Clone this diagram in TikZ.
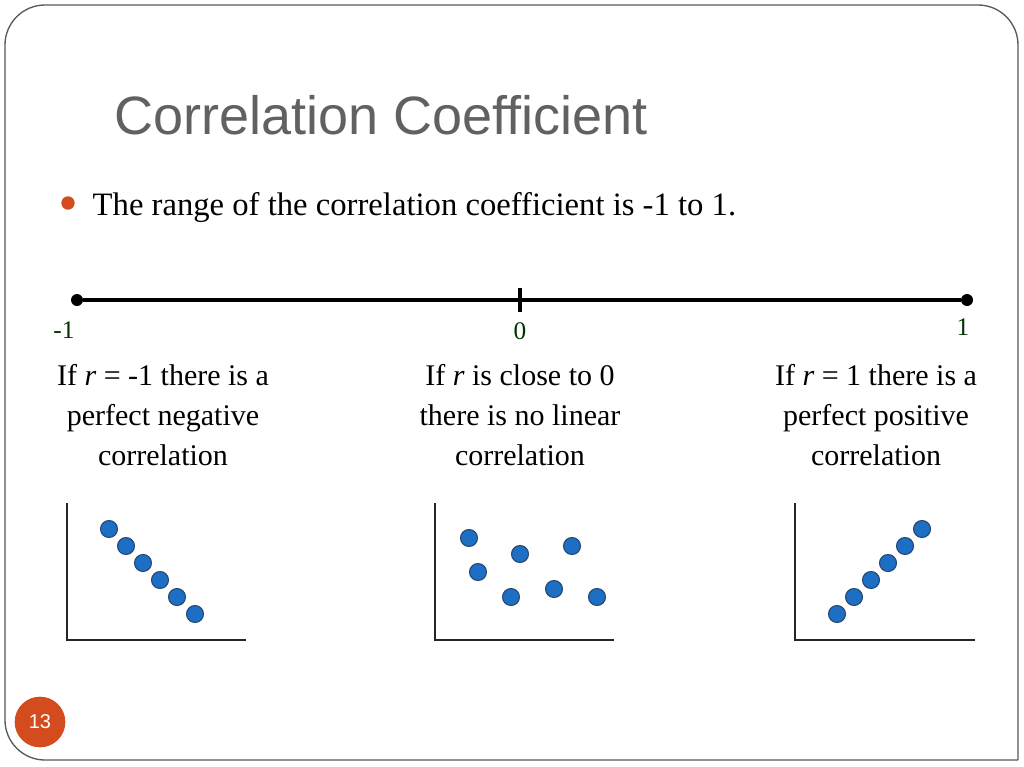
\documentclass[tikz,border=0pt]{standalone}
\usepackage{fontspec}
\setmainfont{Liberation Serif}
\newfontfamily\titlefont{Liberation Sans}
\definecolor{dotblue}{RGB}{28,111,196}
\definecolor{dotedge}{RGB}{40,70,110}
\definecolor{accent}{RGB}{212,76,30}
\begin{document}
\begin{tikzpicture}[x=0.75pt,y=-0.75pt,
  dot/.style={circle,fill=dotblue,draw=dotedge,line width=0.8pt,minimum size=17*0.75pt,inner sep=0pt},
  axis/.style={line width=1.2pt,draw=black!85},
  desc/.style={align=center,font=\fontsize{22.5}{30}\selectfont,anchor=north}]
\useasboundingbox (0,0) rectangle (1024,767);
\fill[white] (0,0) rectangle (1024,767);
\draw[black!65,line width=1pt,rounded corners=30pt] (1018,760) -- (5,760) -- (5,5) -- (1018,5) -- (1018,760);
\node[anchor=base west,text=black!62,font=\titlefont\fontsize{40.5}{44}\selectfont] (title) at (110,134) {Correlation Coefficient};
\node[circle,fill=accent,inner sep=0pt,minimum size=10pt] (bul) at (68,203) {};
\node[anchor=base west,font=\fontsize{24.5}{28}\selectfont] (bt) at (88,215) {The range of the correlation coefficient is -1 to 1.};
% number line
\node[circle,fill=black,inner sep=0pt,minimum size=9pt] (L) at (77,300) {};
\node[circle,fill=black,inner sep=0pt,minimum size=9pt] (R) at (967,300) {};
\draw[line width=2.6pt] (L) -- (R);
\coordinate (t1) at (520,288); \coordinate (t2) at (520,312);
\draw[line width=2.6pt] (t1) -- (t2);
\node[font=\fontsize{19}{22}\selectfont,text=black!80!green] (m1) at (64,330) {-1};
\node[font=\fontsize{19}{22}\selectfont,text=black!80!green] (z0) at (520,331) {0};
\node[font=\fontsize{19}{22}\selectfont,text=black!80!green] (p1) at (963,327) {1};
\node[desc] (d1) at (163,360) {If \textit{r} = -1 there is a\\perfect negative\\correlation};
\node[desc] (d2) at (520,360) {If \textit{r} is close to 0\\there is no linear\\correlation};
\node[desc] (d3) at (876,360) {If \textit{r} = 1 there is a\\perfect positive\\correlation};
% plots
\foreach \ox/\ex in {67/246,435/614,795/975}{
  \draw[axis] (\ox,503) -- (\ox,640) -- (\ex,640);}
\foreach \x/\y [count=\i] in {109/529,126/546,143/563,160/580,177/597,195/614}
  \node[dot] (a\i) at (\x,\y) {};
\foreach \x/\y [count=\i] in {469/538,520/554,572/546,478/572,511/597,554/589,597/597}
  \node[dot] (b\i) at (\x,\y) {};
\foreach \x/\y [count=\i] in {837/614,854/597,871/580,888/563,905/546,922/529}
  \node[dot] (c\i) at (\x,\y) {};
\node[circle,fill=accent,minimum size=38pt,inner sep=0pt,text=white,font=\titlefont\fontsize{15}{17}\selectfont] (pg) at (40,722) {13};
\end{tikzpicture}
\end{document}
